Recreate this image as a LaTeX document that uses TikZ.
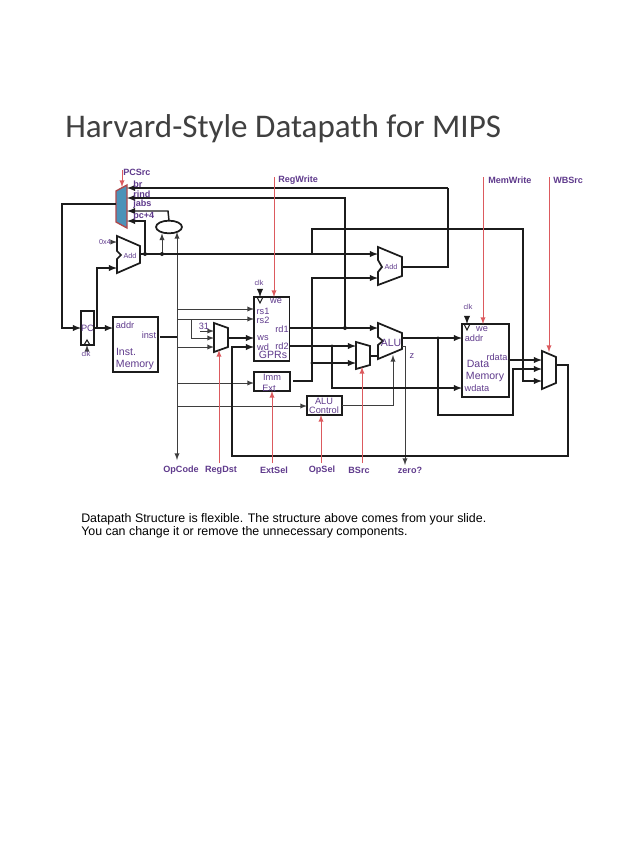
\documentclass[tikz,border=0pt]{standalone}
\usepackage{fontspec}
\setmainfont{Liberation Sans}
\newfontfamily\titlefont{Carlito}
\usepackage{tikz}
\usetikzlibrary{calc,arrows,positioning,shapes.geometric}
\definecolor{lblpurple}{HTML}{5F3A8C}
\definecolor{ctlred}{HTML}{DC5A5E}
\definecolor{wirecol}{HTML}{1C1C1C}

\begin{document}
\begin{tikzpicture}[x=0.75pt,y=-0.75pt,>=latex,
		wire/.style={line width=1.1pt,color=wirecol},
		thinwire/.style={line width=0.75pt,color=wirecol!85},
		ctl/.style={line width=0.75pt,color=ctlred},
		unit/.style={line width=1.3pt,color=wirecol,line join=miter},
		box/.style={draw=wirecol,line width=1.3pt,outer sep=0pt,inner sep=0pt},
		lbl/.style={font=\fontsize{6.9}{8}\selectfont,text=lblpurple,inner sep=0pt},
		biglbl/.style={font=\fontsize{7.9}{9}\selectfont,text=lblpurple,inner sep=0pt},
		tinylbl/.style={font=\fontsize{5.4}{6}\selectfont,text=lblpurple,inner sep=0pt},
		sig/.style={font=\fontsize{6.8}{8}\selectfont\bfseries,text=lblpurple,inner sep=0pt}]
	
	\useasboundingbox (0,0) rectangle (638,851);
	\fill[white] (0,0) rectangle (638,851);
	
	% title and remark
	\node (title) at (65,129)[anchor=west,inner sep=0pt,text=black!75,font=\titlefont\fontsize{24.8}{30}\selectfont] {Harvard-Style Datapath for MIPS};
	\node (remarkA) at (81,519)[anchor=west,inner sep=0pt,font=\fontsize{9.3}{12}\selectfont] {Datapath Structure is flexible. The structure above comes from your slide.};
	\node (remarkB) at (81,532)[anchor=west,inner sep=0pt,font=\fontsize{9.3}{12}\selectfont] {You can change it or remove the unnecessary components.};
	
	% boxes
	\node (pc) at (87.5,328)[box,minimum width=9.75pt,minimum height=25.5pt] {};
	\node (imem) at (135.5,344.5)[box,minimum width=33.75pt,minimum height=41.25pt] {};
	\node (gprs) at (271.75,329)[box,minimum width=26.6pt,minimum height=48pt] {};
	\node (imm) at (272,381.5)[box,minimum width=27pt,minimum height=14.25pt] {};
	\node (aluctl) at (324.5,405.5)[box,minimum width=26.25pt,minimum height=14.25pt] {};
	\node (dmem) at (485.5,360.5)[box,minimum width=35.25pt,minimum height=54.75pt] {};
	\node (pcsel) at (169,227)[draw=wirecol,line width=1.3pt,ellipse,minimum width=19.5pt,minimum height=9.5pt,inner sep=0pt,outer sep=0pt] {};
	
	% multiplexers and adders
	\filldraw[line width=1pt,draw=ctlred!80!black,fill=blue!35!cyan!60!black!70] (116,191) -- (127,185) -- (127,228) -- (116,222) -- cycle;
	\draw[unit] (117,236) -- (140,246) -- (140,263) -- (117,273) -- (117,259) -- (121,255) -- (117,251) -- cycle;
	\draw[unit] (378,247) -- (402,257) -- (402,276) -- (378,285) -- (378,272) -- (382,267) -- (378,260) -- cycle;
	\draw[unit] (378,323) -- (402,333) -- (402,349) -- (378,359) -- (378,345) -- (383,341) -- (378,337) -- cycle;
	\draw[unit] (214,323) -- (228,328) -- (228,347) -- (214,352) -- cycle;
	\draw[unit] (356,342) -- (370,346) -- (370,365) -- (356,369) -- cycle;
	\draw[unit] (542,351) -- (556,357) -- (556,383) -- (542,389) -- cycle;
	
	% ports and turning points
	\coordinate (srcBr) at (127,188);
	\coordinate (srcRind) at (127,198);
	\coordinate (srcJabs) at (127,211);
	\coordinate (srcPc) at (127,221);
	\coordinate (srcOut) at (116,204);
	\coordinate (loopL) at (62,328);
	\coordinate (addIn) at (117,268);
	\coordinate (addImm) at (117,242);
	\coordinate (immTail) at (112,242);
	\coordinate (addOut) at (140,254);
	\coordinate (tapPc) at (145,254);
	\coordinate (tapCmp) at (162,254);
	\coordinate (tapSeq) at (312,254);
	\coordinate (branchIn) at (378,254);
	\coordinate (branchImm) at (378,278);
	\coordinate (branchOut) at (402,267);
	\coordinate (turnBr) at (448,188);
	\coordinate (turnRind) at (345,198);
	\coordinate (tapRd1) at (345,328);
	\coordinate (jabsTop) at (168,211);
	\coordinate (seqTop) at (312,229);
	\coordinate (seqRight) at (523,229);
	\coordinate (wbSeq) at (542,381);
	\coordinate (wbRd) at (542,360);
	\coordinate (wbAlu) at (542,369);
	\coordinate (busTop) at (177,232);
	\coordinate (busEnd) at (177,460);
	\coordinate (instOut) at (160,337);
	\coordinate (busInst) at (177,337);
	\coordinate (busRs1) at (177,309);
	\coordinate (busRs2) at (177,319);
	\coordinate (busRt) at (177,347);
	\coordinate (busImm) at (177,383);
	\coordinate (busCtl) at (177,406);
	\coordinate (tapRs2) at (191,319);
	\coordinate (dstMid) at (214,338);
	\coordinate (dstTop) at (214,331);
	\coordinate (dstLow) at (214,347);
	\coordinate (dstTail) at (200,331);
	\coordinate (dstOut) at (228,338);
	\coordinate (gprRd1) at (289.5,328);
	\coordinate (gprRd2) at (289.5,346);
	\coordinate (gprWd) at (232,347);
	\coordinate (wdLow) at (232,456);
	\coordinate (wbBack) at (568,456);
	\coordinate (wbOut) at (556,365);
	\coordinate (aluA) at (378,328);
	\coordinate (bsrcA) at (356,346);
	\coordinate (tapRd2) at (332,346);
	\coordinate (tapData) at (332,388);
	\coordinate (immOut) at (293,381);
	\coordinate (immUp) at (312,381);
	\coordinate (immTop) at (312,278);
	\coordinate (tapImm) at (312,363);
	\coordinate (bsrcB) at (356,363);
	\coordinate (bsrcOut) at (370,356);
	\coordinate (aluB) at (378,356);
	\coordinate (aluOut) at (402,338);
	\coordinate (tapAlu) at (438,338);
	\coordinate (aluLow) at (438,415);
	\coordinate (aluRight) at (513,415);
	\coordinate (zOut) at (402,346);
	\coordinate (zTurn) at (405,346);
	\coordinate (zEnd) at (405,465);
	\coordinate (ctlIn) at (393,355);
	\coordinate (pcOut) at (97,328);
	
	% thin opcode bus
	\draw[<->,thinwire] (busTop) -- (busEnd);
	\draw[->,thinwire] (tapCmp) -- (tapCmp |- pcsel.south);
	\draw[->,thinwire] (busRs1) -- (busRs1 -| gprs.west);
	\draw[->,thinwire] (busRs2) -- (busRs2 -| gprs.west);
	\draw[->,thinwire] (busRt) -- (dstLow);
	\draw[->,thinwire] (busImm) -- (busImm -| imm.west);
	\draw[->,thinwire] (busCtl) -- (busCtl -| aluctl.west);
	\draw[->,thinwire] (tapRs2) |- (dstMid);
	\draw[->,thinwire] (dstTail) -- (dstTop);
	\draw[->,thinwire] (immTail) -- (addImm);
	\draw[->,thinwire] (aluctl.east) -| (ctlIn);
	\draw[->,thinwire] (zOut) -- (zTurn) -- (zEnd);
	
	% data wires
	\draw[->,wire] (turnBr) -- (srcBr);
	\draw[wire] (branchOut) -| (turnBr);
	\draw[->,wire] (tapRd1) -- (turnRind) -- (srcRind);
	\draw[->,wire] (pcsel.north) -- (jabsTop) -- (srcJabs);
	\draw[->,wire] (tapPc) |- (srcPc);
	\draw[->,wire] (srcOut) -| (loopL) -- (loopL -| pc.west);
	\draw[->,wire] (pc.east) -- (pc.east -| imem.west);
	\draw[->,wire] (pcOut) |- (addIn);
	\draw[->,wire] (addOut) -- (branchIn);
	\draw[->,wire] (tapSeq) -- (seqTop) -- (seqRight) |- (wbSeq);
	\draw[wire] (instOut) -- (busInst);
	\draw[->,wire] (dstOut) -- (dstOut -| gprs.west);
	\draw[->,wire] (wbOut) -| (wbBack) -- (wdLow) -- (gprWd) -- (gprWd -| gprs.west);
	\draw[->,wire] (gprRd1) -- (aluA);
	\draw[->,wire] (gprRd2) -- (bsrcA);
	\draw[->,wire] (tapRd2) -- (tapData) -- (tapData -| dmem.west);
	\draw[->,wire] (immOut) -- (immUp) -- (immTop) -- (branchImm);
	\draw[->,wire] (tapImm) -- (bsrcB);
	\draw[wire] (bsrcOut) -- (aluB);
	\draw[->,wire] (aluOut) -- (aluOut -| dmem.west);
	\draw[->,wire] (tapAlu) -- (aluLow) -- (aluRight) |- (wbAlu);
	\draw[->,wire] (wbRd -| dmem.east) -- (wbRd);
	
	% junctions
	\fill[wirecol] (tapPc) circle (2);
	\fill[wirecol] (tapCmp) circle (2);
	\fill[wirecol] (tapRd1) circle (2);
	\fill[wirecol] (tapRd2) circle (1.6);
	\fill[wirecol] (tapImm) circle (1.6);
	\fill[wirecol] (tapAlu) circle (1.6);
	
	% clocks
	\coordinate (clkGpr) at (260,289);
	\coordinate (clkGprIn) at (260,297);
	\coordinate (clkMem) at (467,317);
	\coordinate (clkMemIn) at (467,324);
	\coordinate (clkPc) at (87,351);
	\coordinate (clkPcIn) at (87,345);
	\draw[line width=0.8pt,wirecol] (257,297) -- (260,303) -- (263,297);
	\draw[line width=0.8pt,wirecol] (464,324) -- (467,330) -- (470,324);
	\draw[line width=0.8pt,wirecol] (84,345) -- (87,340) -- (90,345);
	\draw[->,wire] (clkGpr) -- (clkGprIn);
	\draw[->,wire] (clkMem) -- (clkMemIn);
	\draw[->,thinwire] (clkPc) -- (clkPcIn);
	
	% control lines
	\coordinate (ctlSrcTop) at (122,170);
	\coordinate (ctlSrc) at (122,187);
	\coordinate (ctlRegTop) at (274,177);
	\coordinate (ctlMemTop) at (483,177);
	\coordinate (ctlWbTop) at (549,177);
	\coordinate (ctlWb) at (549,352);
	\coordinate (ctlDstLow) at (219,463);
	\coordinate (ctlDst) at (219,350);
	\coordinate (ctlExtLow) at (272,463);
	\coordinate (ctlOpLow) at (321,463);
	\coordinate (ctlBsrcLow) at (362,463);
	\coordinate (ctlBsrc) at (362,367);
	\draw[->,ctl] (ctlSrcTop) -- (ctlSrc);
	\draw[->,ctl] (ctlRegTop) -- (ctlRegTop |- gprs.north);
	\draw[->,ctl] (ctlMemTop) -- (ctlMemTop |- dmem.north);
	\draw[->,ctl] (ctlWbTop) -- (ctlWb);
	\draw[->,ctl] (ctlDstLow) -- (ctlDst);
	\draw[->,ctl] (ctlExtLow) -- (ctlExtLow |- imm.south);
	\draw[->,ctl] (ctlOpLow) -- (ctlOpLow |- aluctl.south);
	\draw[->,ctl] (ctlBsrcLow) -- (ctlBsrc);
	
	% labels of the control signals
	\node (lPcSrc) at (123,172)[sig,anchor=west] {PCSrc};
	\node (lBr) at (133,184)[sig,anchor=west] {br};
	\node (lRind) at (133,194)[sig,anchor=west] {rind};
	\node (lJabs) at (133,204)[sig,anchor=west] {jabs};
	\node (lPc4) at (133,216)[sig,anchor=west] {pc+4};
	\node (lRegWrite) at (278,180)[sig,anchor=west] {RegWrite};
	\node (lMemWrite) at (488,180)[sig,anchor=west] {MemWrite};
	\node (lWbSrc) at (553,180)[sig,anchor=west] {WBSrc};
	\node (lOpCode) at (181,470)[sig] {OpCode};
	\node (lRegDst) at (221,470)[sig] {RegDst};
	\node (lExtSel) at (274,470)[sig] {ExtSel};
	\node (lOpSel) at (322,470)[sig] {OpSel};
	\node (lBSrc) at (359,470)[sig] {BSrc};
	\node (lZero) at (410,470)[sig] {zero?};
	
	% labels in the units
	\node (lImm4) at (105,242)[tinylbl] {0x4};
	\node (lAddA) at (130,256)[tinylbl] {Add};
	\node (lAddB) at (391,267)[tinylbl] {Add};
	\node (lPcBox) at (87.5,328)[lbl] {PC};
	\node (lPcClk) at (86,354)[tinylbl] {clk};
	\node (lAddr) at (125,325)[lbl] {addr};
	\node (lInst) at (149,335)[lbl] {inst};
	\node (lInstB) at (126,352)[biglbl] {Inst.};
	\node (lMemB) at (135,365)[biglbl] {Memory};
	\node (l31) at (204,326)[lbl] {31};
	\node (lClkG) at (259,283)[tinylbl] {clk};
	\node (lWe) at (276,301)[lbl] {we};
	\node (lRs1) at (263,311)[lbl] {rs1};
	\node (lRs2) at (263,320)[lbl] {rs2};
	\node (lRd1) at (282,329)[lbl] {rd1};
	\node (lWs) at (263,338)[lbl] {ws};
	\node (lWd) at (263,347)[lbl] {wd};
	\node (lRd2) at (282,346)[lbl] {rd2};
	\node (lGprs) at (273,355)[biglbl] {GPRs};
	\node (lImmA) at (272,377)[lbl] {Imm};
	\node (lExt) at (269,388)[lbl] {Ext};
	\node (lAluA) at (324,401)[lbl] {ALU};
	\node (lAluB) at (324,410)[lbl] {Control};
	\node (lAlu) at (391,343)[biglbl] {ALU};
	\node (lZ) at (412,356)[lbl] {z};
	\node (lClkM) at (468,307)[tinylbl] {clk};
	\node (lWeM) at (482,329)[lbl] {we};
	\node (lAddrM) at (474,338)[lbl] {addr};
	\node (lRdata) at (497,357)[lbl] {rdata};
	\node (lData) at (478,364)[biglbl] {Data};
	\node (lMemory) at (485,377)[biglbl] {Memory};
	\node (lWdata) at (477,388)[lbl] {wdata};
	
\end{tikzpicture}
\end{document}
